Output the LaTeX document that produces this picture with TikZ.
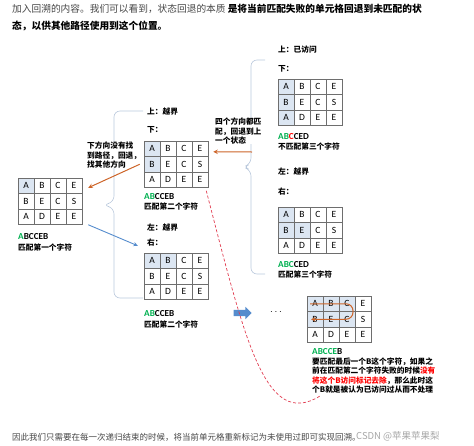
\documentclass[tikz,border=0pt]{standalone}
\usepackage{fontspec}
\setmainfont{Noto Sans CJK SC}
\newfontfamily\latinfont{Carlito}
\usetikzlibrary{shapes.arrows}
\definecolor{cellblue}{RGB}{220,230,242}
\definecolor{gridgray}{RGB}{110,110,110}
\definecolor{bracegray}{RGB}{185,200,220}
\definecolor{rust}{RGB}{205,100,40}
\definecolor{skyblue}{RGB}{85,140,205}
\definecolor{hitgreen}{RGB}{0,176,80}
\definecolor{missred}{RGB}{255,0,0}
\definecolor{dashred}{RGB}{225,60,80}
\definecolor{introgray}{RGB}{70,70,70}

% one 3x4 board, #1 name, (#2,#3) top left corner, #4 visited cells
\newcommand{\wordgrid}[4]{%
  \foreach \k in {#4}
    \fill[cellblue] ({#2+mod(\k,4)*16},{#3+int(\k/4)*15.5}) rectangle +(16,15.5);
  \foreach \ch [count=\i from 0] in {A,B,C,E,B,E,C,S,A,D,E,E}
    \node[cell] (#1-\i) at ({#2+mod(\i,4)*16+8},{#3+int(\i/4)*15.5+7.75}) {\ch};
}

\begin{document}
\begin{tikzpicture}[x=1pt, y=-1pt, >=stealth,
    cell/.style={draw=gridgray, line width=0.5pt, minimum width=16pt, minimum height=15.5pt,
      inner sep=0pt, font=\latinfont\fontsize{9.5}{10}\selectfont},
    lab/.style={anchor=west, inner sep=0pt, font=\bfseries\fontsize{7.7}{9.3}\selectfont, align=left},
    word/.style={anchor=west, inner sep=0pt, font=\latinfont\bfseries\fontsize{9.2}{10}\selectfont},
    brace/.style={draw=bracegray, line width=0.6pt, rounded corners=6pt},
    backarrow/.style={->, draw=rust, line width=1pt},
    fwdarrow/.style={->, draw=skyblue, line width=0.9pt},
    tracearrow/.style={draw=dashred, densely dashed, line width=0.7pt}]
  \useasboundingbox (0,0) rectangle (474,445);

  % text above and below
  \node[anchor=west, inner sep=0pt, font=\fontsize{9.7}{12}\selectfont] (intro1) at (12,9)
    {\textcolor{introgray}{加入回溯的内容。我们可以看到，状态回退的本质} \textbf{是将当前匹配失败的单元格回退到未匹配的状}};
  \node[anchor=west, inner sep=0pt, font=\bfseries\fontsize{9.7}{12}\selectfont] (intro2) at (12,26)
    {态，以供其他路径使用到这个位置。};
  \node[anchor=west, inner sep=0pt, font=\fontsize{8.5}{10}\selectfont, text=introgray] (outro) at (12,437)
    {因此我们只需要在每一次递归结束的时候，将当前单元格重新标记为未使用过即可实现回溯。};
  \node[anchor=west, inner sep=0pt, font=\fontsize{9.5}{12}\selectfont, text=black!35] (mark) at (356,436)
    {CSDN @苹果苹果梨};

  % braces
  \draw[brace] (143,111) -- (114,111) -- (114,202) -- (103,205) -- (114,208) -- (114,298) -- (143,298);
  \draw[brace] (265,60) -- (251,60) -- (251,164) -- (243,167) -- (251,170) -- (251,274) -- (265,274);

  % first step
  \wordgrid{g0}{18}{178}{0}
  \node[word] (g0w) at (18,237) {\textcolor{hitgreen}{A}BCCEB};
  \node[lab] (g0t) at (18,248) {匹配第一个字符};

  % second step
  \node[lab] (m1up) at (147,112) {上：越界};
  \node[lab] (m1down) at (147,130) {下：};
  \wordgrid{m1}{144}{141}{0,4}
  \node[word] (m1w) at (144,197) {\textcolor{hitgreen}{AB}CCEB};
  \node[lab] (m1t) at (144,207) {匹配第二个字符};

  \node[lab] (m2left) at (147,228) {左：越界};
  \node[lab] (m2right) at (147,243) {右：};
  \wordgrid{m2}{144}{253}{0,1}
  \node[word] (m2w) at (144,314) {\textcolor{hitgreen}{AB}CCEB};
  \node[lab] (m2t) at (144,325) {匹配第二个字符};

  % third step
  \node[lab] (r1up) at (278,50) {上：已访问};
  \node[lab] (r1down) at (278,69) {下：};
  \wordgrid{r1}{278}{79}{0,4,8}
  \node[word] (r1w) at (278,137) {\textcolor{hitgreen}{AB}\textcolor{missred}{C}CED};
  \node[lab] (r1t) at (278,147) {不匹配第三个字符};

  \node[lab] (r2left) at (278,172) {左：越界};
  \node[lab] (r2right) at (278,192) {右：};
  \wordgrid{r2}{278}{207}{0,4,5}
  \node[word] (r2w) at (278,265) {\textcolor{hitgreen}{ABC}CED};
  \node[lab] (r2t) at (278,275) {匹配第三个字符};

  % last step
  \node[single arrow, fill=skyblue, draw=none, minimum height=18pt, inner sep=3pt,
    single arrow head extend=3pt] (jump) at (241,313) {};
  \node[inner sep=0pt] (dots) at (276,312) {$\cdots$};
  \wordgrid{f}{307}{296}{0,1,2,4,5,6}
  \node[word] (fw) at (312,352) {\textcolor{hitgreen}{ABCCE}B};
  \node[lab, anchor=north west] (fnote) at (312,357.5)
    {要匹配最后一个B这个字符，如果之\\
     前在匹配第二个字符失败的时候\textcolor{missred}{没有}\\
     \textcolor{missred}{将这个B访问标记去除}，那么此时这\\
     个B就是被认为已访问过从而不处理};
  \draw[backarrow, rounded corners=7pt] ([xshift=-5pt]f-0.center) -- ([xshift=6pt]f-2.center)
    -- ([xshift=6pt]f-6.center) -- ([xshift=-4pt]f-4.center);

  % connectors
  \node[lab, anchor=north west, fill=white] (downfail) at (87,142) {下方向没有找\\到路径，回退，\\找其他方向};
  \node[lab, anchor=north west, fill=white] (allfail) at (215,118) {四个方向都匹\\配，回退到上\\一个状态};
  \coordinate (b2arm) at (252,152);
  \coordinate (bmark) at (320,396);
  \draw[backarrow] ([xshift=-4pt]m1-4.west) -- ([xshift=6pt,yshift=-2pt]g0-3.east);
  \draw[fwdarrow] ([xshift=6pt]g0-11.south east) -- ([xshift=-6pt,yshift=7pt]m2-0.north west);
  \draw[backarrow] (b2arm) -- ([xshift=5pt,yshift=-3pt]m1-3.east);
  \draw[tracearrow] ([xshift=-2pt,yshift=-3pt]m1-11.south east) .. controls (245,340) and (265,430) .. (bmark);
\end{tikzpicture}
\end{document}
